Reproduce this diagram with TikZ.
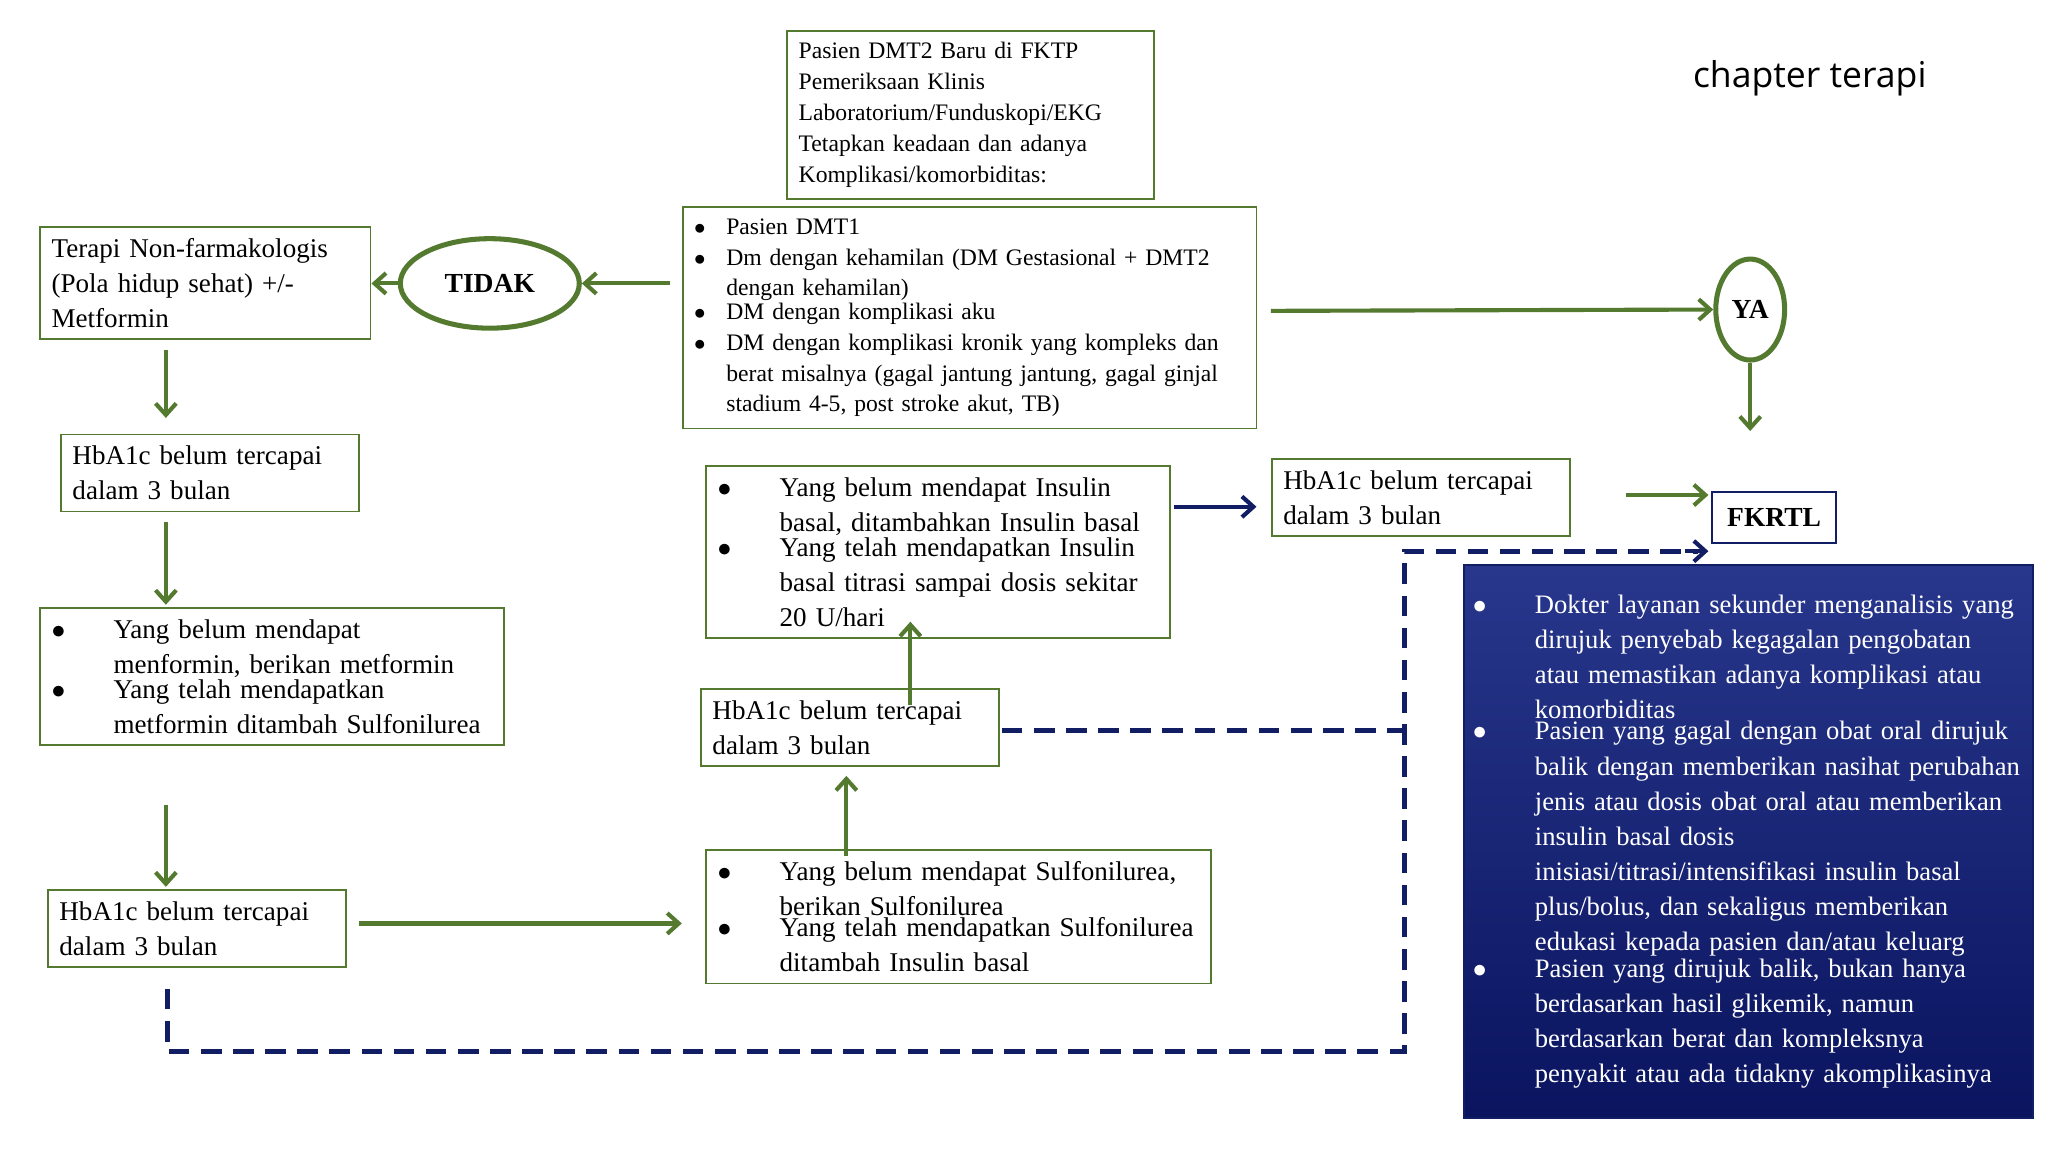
\documentclass[tikz,border=0pt]{standalone}
\usepackage{fontspec}
\setmainfont{Liberation Serif}
\newfontfamily\sansf{Open Sans}
\usetikzlibrary{arrows.meta,shapes.geometric}
\definecolor{gr}{RGB}{84,122,48}
\definecolor{nv}{RGB}{18,30,100}
\definecolor{bl1}{RGB}{40,55,140}
\definecolor{bl2}{RGB}{10,20,95}
\hyphenpenalty=10000 \exhyphenpenalty=10000
\begin{document}
\begin{tikzpicture}[x=0.02cm,y=-0.02cm,
 box/.style={draw=gr,line width=0.8pt,anchor=north west,inner sep=5pt,align=left,font=\fontsize{11.8}{15.2}\selectfont},
 ga/.style={draw=gr,line width=1.8pt,-{Straight Barb[length=5pt,width=9pt]}},
 na/.style={draw=nv,line width=1.8pt,-{Straight Barb[length=5pt,width=9pt]}},
 nd/.style={draw=nv,line width=2.2pt,dash pattern=on 9pt off 5pt}]
\useasboundingbox (0,0) rectangle (1568,882);
\newcommand{\bl}[1]{\makebox[27pt][l]{$\bullet$}\parbox[t]{#1}}
\node[font=\sansf\fontsize{15.5}{18}\selectfont,anchor=west] (title) at (1290,60) {chapter terapi};
\node[box,text width=150pt,font=\fontsize{10.3}{13.5}\selectfont] (top) at (602,23) {Pasien DMT2 Baru di FKTP\\Pemeriksaan Klinis\\Laboratorium/Funduskopi/EKG\\Tetapkan keadaan dan adanya\\Komplikasi/komorbiditas:};
\node[box,text width=240pt,font=\fontsize{10.3}{13.4}\selectfont] (crit) at (522,158) {%
\makebox[14pt][l]{$\bullet$}\parbox[t]{226pt}{\raggedright Pasien DMT1}\\
\makebox[14pt][l]{$\bullet$}\parbox[t]{226pt}{\raggedright Dm dengan kehamilan (DM Gestasional + DMT2 dengan kehamilan)}\\
\makebox[14pt][l]{$\bullet$}\parbox[t]{226pt}{\raggedright DM dengan komplikasi aku}\\
\makebox[14pt][l]{$\bullet$}\parbox[t]{226pt}{\raggedright DM dengan komplikasi kronik yang kompleks dan berat misalnya (gagal jantung jantung, gagal ginjal stadium 4-5, post stroke akut, TB)}};
\node[box,text width=134pt] (terapi) at (30,173) {Terapi Non-farmakologis\\(Pola hidup sehat) +/-\\Metformin};
\node[draw=gr,line width=2.2pt,ellipse,inner sep=0pt,minimum width=78pt,minimum height=39pt,font=\bfseries\fontsize{12}{15}\selectfont] (tidak) at (375,217) {TIDAK};
\node[draw=gr,line width=2.2pt,ellipse,inner sep=0pt,minimum width=30pt,minimum height=44pt,font=\bfseries\fontsize{12}{15}\selectfont] (ya) at (1340,237) {YA};
\node[box,text width=120pt] (hb1) at (46,332) {HbA1c belum tercapai\\dalam 3 bulan};
\node[box,text width=192pt] (l1) at (30,465) {\bl{165pt}{\raggedright Yang belum mendapat menformin, berikan metformin}\\\bl{165pt}{\raggedright Yang telah mendapatkan metformin ditambah Sulfonilurea}};
\node[box,text width=120pt] (hb2) at (36,681) {HbA1c belum tercapai\\dalam 3 bulan};
\node[box,text width=210pt] (sulf) at (540,650) {\bl{183pt}{\raggedright Yang belum mendapat Sulfonilurea, berikan Sulfonilurea}\\\bl{183pt}{\raggedright Yang telah mendapatkan Sulfonilurea ditambah Insulin basal}};
\node[box,text width=120pt] (hbm) at (536,527) {HbA1c belum tercapai\\dalam 3 bulan};
\node[box,text width=192pt] (ins) at (540,356) {\bl{165pt}{\raggedright Yang belum mendapat Insulin basal, ditambahkan Insulin basal}\\\bl{165pt}{\raggedright Yang telah mendapatkan Insulin basal titrasi sampai dosis sekitar 20 U/hari}};
\node[box,text width=120pt] (hbr) at (973,351) {HbA1c belum tercapai\\dalam 3 bulan};
\node[draw=nv,line width=1pt,anchor=north west,minimum width=54pt,minimum height=22pt,font=\bfseries\fontsize{12}{15}\selectfont] (fk) at (1310,376) {FKRTL};
\node[anchor=north west,draw=nv,line width=0.8pt,top color=bl1,bottom color=bl2,text=white,minimum height=241pt,align=left,text width=240pt,inner sep=4pt,font=\fontsize{11.6}{15.3}\selectfont] (info) at (1120,432) {%
\bl{213pt}{\raggedright Dokter layanan sekunder menganalisis yang dirujuk penyebab kegagalan pengobatan atau memastikan adanya komplikasi atau komorbiditas}\\
\bl{213pt}{\raggedright Pasien yang gagal dengan obat oral dirujuk balik dengan memberikan nasihat perubahan jenis atau dosis obat oral atau memberikan insulin basal dosis inisiasi/titrasi/intensifikasi insulin basal plus/bolus, dan sekaligus memberikan edukasi kepada pasien dan/atau keluarg}\\
\bl{213pt}{\raggedright Pasien yang dirujuk balik, bukan hanya berdasarkan hasil glikemik, namun berdasarkan berat dan kompleksnya penyakit atau ada tidakny akomplikasinya}};
\coordinate (c1) at (128,805); \coordinate (c2) at (1075,805); \coordinate (c3) at (1075,422); \coordinate (c4) at (1308,422);
\coordinate (m1) at (1075,559);
\coordinate (s1) at (513,217); \coordinate (s2) at (973,238);
\draw[ga] (s1) -- (tidak.east);
\draw[ga] (tidak.west) -- (terapi.east |- tidak);
\draw[ga] (127,268) -- (127,320);
\draw[ga] (127,400) -- (127,463);
\draw[ga] (127,616) -- (127,679);
\draw[ga] (275,707) -- (522,707);
\draw[ga] (648,655) -- (648,594);
\draw[ga] (697,540) -- (697,476);
\draw[na] (899,388) -- (962,388);
\draw[ga] (1245,379) -- (1308,379);
\draw[ga] (s2) -- (ya.west);
\draw[ga] (ya.south) -- (1340,330);
\draw[nd] (128,757) -- (c1) -- (c2) -- (c3) -- (1300,422);
\draw[na] (1290,422) -- (c4);
\draw[nd] (767,559) -- (m1);
\end{tikzpicture}
\end{document}
